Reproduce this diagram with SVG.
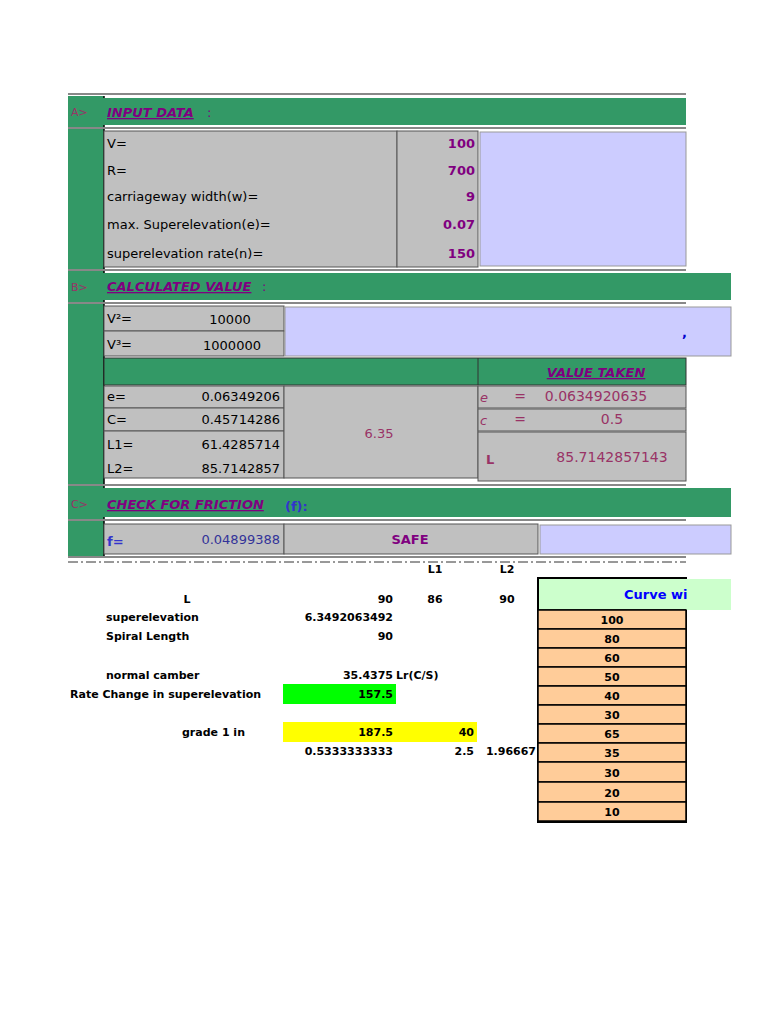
<svg xmlns="http://www.w3.org/2000/svg" width="768" height="1024" viewBox="0 0 768 1024">
<style>
text{font-family:"DejaVu Sans",sans-serif;font-size:13px}
.hd{fill:#339966}
.gr{fill:#c0c0c0;stroke:#555;stroke-width:1}
.lv{fill:#ccccff;stroke:#999;stroke-width:1}
.h{font-style:italic;font-weight:bold;fill:#800080;text-decoration:underline}
.lab{fill:#993366;font-size:11px}
.k{fill:#000;font-size:13px}
.p{fill:#800080;font-weight:bold;font-size:13px}
.m{fill:#993366;font-size:14px}
.s{font-size:11px;font-weight:bold;fill:#000}
.or{fill:#ffcc99;stroke:#000;stroke-width:1.5}
</style>
<rect width="768" height="1024" fill="#fff"/>
<g id="frame">
<rect class="hd" x="68" y="96" width="36" height="460"/>
<line x1="104" y1="96" x2="104" y2="558" stroke="#000" stroke-width="1.5"/>
<line x1="68" y1="94" x2="686" y2="94" stroke="#888" stroke-width="2"/>
<line x1="68" y1="128" x2="686" y2="128" stroke="#888" stroke-width="2"/>
<line x1="68" y1="270" x2="686" y2="270" stroke="#888" stroke-width="2"/>
<line x1="68" y1="303" x2="686" y2="303" stroke="#888" stroke-width="2"/>
<line x1="68" y1="485" x2="686" y2="485" stroke="#888" stroke-width="2"/>
<line x1="68" y1="520" x2="686" y2="520" stroke="#888" stroke-width="2"/>
<line x1="68" y1="557" x2="686" y2="557" stroke="#888" stroke-width="2"/>
<line x1="68" y1="562" x2="686" y2="562" stroke="#333" stroke-width="1" stroke-dasharray="10,3,2,3"/>
</g>
<g id="sectionA">
<rect class="hd" x="68" y="98" width="618" height="27"/>
<text x="71" y="116" class="lab">A&gt;</text>
<text x="107" y="117" class="h">INPUT DATA</text><text x="207" y="117" fill="#800080">:</text>
<rect class="gr" x="104" y="131" width="293" height="136"/>
<rect class="gr" x="397" y="131" width="81" height="136"/>
<rect class="lv" x="480" y="132" width="206" height="134"/>
<text x="107" y="148" class="k">V=</text><text x="475" y="148" class="p" text-anchor="end">100</text>
<text x="107" y="175" class="k">R=</text><text x="475" y="175" class="p" text-anchor="end">700</text>
<text x="107" y="201" class="k">carriageway width(w)=</text><text x="475" y="201" class="p" text-anchor="end">9</text>
<text x="107" y="229" class="k">max. Superelevation(e)=</text><text x="475" y="229" class="p" text-anchor="end">0.07</text>
<text x="107" y="258" class="k">superelevation rate(n)=</text><text x="475" y="258" class="p" text-anchor="end">150</text>
</g>
<g id="sectionB">
<rect class="hd" x="68" y="273" width="663" height="27"/>
<text x="71" y="291" class="lab">B&gt;</text>
<text x="107" y="291" class="h">CALCULATED VALUE</text><text x="262" y="291" fill="#800080">:</text>
<rect class="gr" x="104" y="306" width="180" height="25"/>
<rect class="gr" x="104" y="331" width="180" height="25"/>
<rect class="lv" x="285" y="307" width="446" height="49" stroke="none"/>
<text x="107" y="323" class="k">V²=</text><text x="230" y="324" class="k" text-anchor="middle">10000</text>
<text x="107" y="349" class="k">V³=</text><text x="232" y="350" class="k" text-anchor="middle">1000000</text>
<text x="682" y="337" fill="#0000cc" font-weight="bold">,</text>
<rect class="hd" x="104" y="358" width="582" height="27" stroke="#333"/>
<line x1="478" y1="358" x2="478" y2="385" stroke="#333"/>
<text x="596" y="377" class="h" text-anchor="middle">VALUE TAKEN</text>
<rect class="gr" x="104" y="386" width="180" height="22"/>
<rect class="gr" x="104" y="408" width="180" height="23"/>
<rect class="gr" x="104" y="431" width="180" height="47"/>
<rect class="gr" x="284" y="386" width="194" height="92"/>
<text x="379" y="438" font-family="Liberation Serif,serif" fill="#993366" font-size="14" text-anchor="middle">6.35</text>
<text x="107" y="401" class="k">e=</text><text x="280" y="401" class="k" text-anchor="end">0.06349206</text>
<text x="107" y="424" class="k">C=</text><text x="280" y="424" class="k" text-anchor="end">0.45714286</text>
<text x="107" y="449" class="k">L1=</text><text x="280" y="449" class="k" text-anchor="end">61.4285714</text>
<text x="107" y="473" class="k">L2=</text><text x="280" y="473" class="k" text-anchor="end">85.7142857</text>
<rect class="gr" x="478" y="386" width="208" height="22"/>
<rect class="gr" x="478" y="409" width="208" height="22"/>
<rect class="gr" x="478" y="432" width="208" height="49"/>
<text x="480" y="402" font-family="Liberation Serif,serif" font-style="italic" fill="#993366" font-size="14">e</text>
<text x="520" y="401" class="m" text-anchor="middle">=</text>
<text x="596" y="401" class="m" text-anchor="middle">0.0634920635</text>
<text x="480" y="425" font-family="Liberation Serif,serif" font-style="italic" fill="#993366" font-size="14">c</text>
<text x="520" y="424" class="m" text-anchor="middle">=</text>
<text x="612" y="424" class="m" text-anchor="middle">0.5</text>
<text x="486" y="464" fill="#993366" font-size="18" font-weight="bold">L</text>
<text x="612" y="462" class="m" text-anchor="middle">85.7142857143</text>
</g>
<g id="sectionC">
<rect class="hd" x="68" y="488" width="663" height="29"/>
<text x="71" y="508" class="lab">C&gt;</text>
<text x="107" y="509" class="h">CHECK FOR FRICTION </text><text x="285" y="511" fill="#3333cc" font-size="17" font-weight="bold">(f):</text>
<rect class="gr" x="104" y="524" width="180" height="30"/>
<rect class="gr" x="284" y="524" width="254" height="30"/>
<rect class="lv" x="540" y="525" width="191" height="29"/>
<text x="107" y="546" fill="#3333cc" font-size="18" font-weight="bold">f=</text>
<text x="280" y="544" fill="#333399" font-size="13" text-anchor="end">0.04899388</text>
<text x="410" y="544" class="p" text-anchor="middle" font-weight="normal">SAFE</text>
</g>
<g id="calc">
<text x="435" y="573" class="s" text-anchor="middle">L1</text>
<text x="507" y="573" class="s" text-anchor="middle" fill="#ff0000">L2</text>
<text x="187" y="603" class="s" text-anchor="middle">L</text>
<text x="393" y="603" class="s" text-anchor="end">90</text>
<text x="435" y="603" class="s" text-anchor="middle">86</text>
<text x="507" y="603" class="s" text-anchor="middle" fill="#ff0000">90</text>
<text x="106" y="621" class="s">superelevation</text>
<text x="393" y="621" class="s" text-anchor="end">6.3492063492</text>
<text x="106" y="640" class="s">Spiral Length</text>
<text x="393" y="640" class="s" text-anchor="end">90</text>
<text x="106" y="679" class="s">normal camber</text>
<text x="393" y="679" class="s" text-anchor="end">35.4375</text>
<text x="396" y="679" class="s">Lr(C/S)</text>
<text x="70" y="698" class="s">Rate Change in superelevation</text>
<rect x="283" y="684" width="113" height="20" fill="#00ff00"/>
<text x="393" y="698" class="s" text-anchor="end">157.5</text>
<text x="182" y="736" class="s">grade 1 in</text>
<rect x="283" y="722" width="194" height="20" fill="#ffff00"/>
<text x="393" y="736" class="s" text-anchor="end">187.5</text>
<text x="474" y="736" class="s" text-anchor="end">40</text>
<text x="393" y="755" class="s" text-anchor="end">0.5333333333</text>
<text x="474" y="755" class="s" text-anchor="end">2.5</text>
<text x="536" y="755" class="s" text-anchor="end">1.96667</text>
</g>
<g id="curveTable">
<rect x="538" y="578" width="148" height="244" fill="none" stroke="#000" stroke-width="2"/>
<rect x="539" y="579" width="192" height="31" fill="#ccffcc"/>
<line x1="538" y1="610" x2="686" y2="610" stroke="#000" stroke-width="1.5"/>
<text x="624" y="599" fill="#0000ff" font-size="13" font-weight="bold">Curve wi</text>
<g font-size="12">
<rect class="or" x="538" y="610" width="148" height="19"/><text x="612" y="624" class="s" text-anchor="middle">100</text>
<rect class="or" x="538" y="629" width="148" height="19"/><text x="612" y="643" class="s" text-anchor="middle">80</text>
<rect class="or" x="538" y="648" width="148" height="19"/><text x="612" y="662" class="s" text-anchor="middle">60</text>
<rect class="or" x="538" y="667" width="148" height="19"/><text x="612" y="681" class="s" text-anchor="middle">50</text>
<rect class="or" x="538" y="686" width="148" height="19"/><text x="612" y="700" class="s" text-anchor="middle">40</text>
<rect class="or" x="538" y="705" width="148" height="19"/><text x="612" y="719" class="s" text-anchor="middle">30</text>
<rect class="or" x="538" y="724" width="148" height="19"/><text x="612" y="738" class="s" text-anchor="middle">65</text>
<rect class="or" x="538" y="743" width="148" height="19"/><text x="612" y="757" class="s" text-anchor="middle">35</text>
<rect class="or" x="538" y="762" width="148" height="20"/><text x="612" y="777" class="s" text-anchor="middle">30</text>
<rect class="or" x="538" y="782" width="148" height="20"/><text x="612" y="797" class="s" text-anchor="middle">20</text>
<rect class="or" x="538" y="802" width="148" height="19"/><text x="612" y="816" class="s" text-anchor="middle">10</text>
</g>
</g>
</svg>
